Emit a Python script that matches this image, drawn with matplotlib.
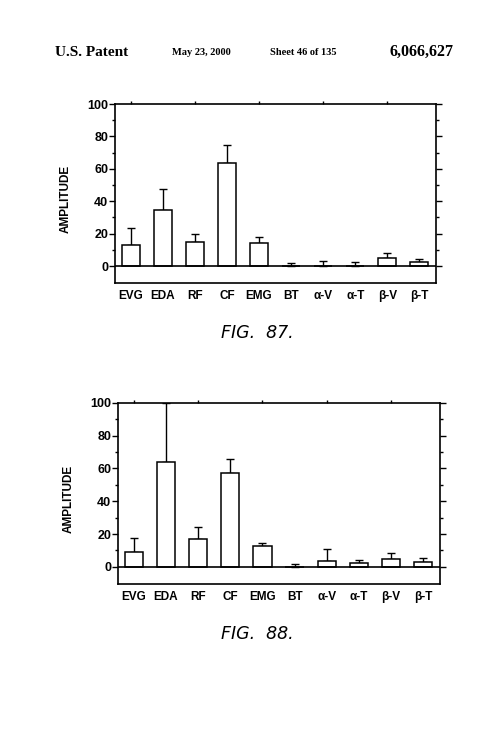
import numpy as np
import matplotlib
matplotlib.use("Agg")
import matplotlib.pyplot as plt

# categories shared by both figures
labels = ["EVG", "EDA", "RF", "CF", "EMG", "BT", "α-V", "α-T", "β-V", "β-T"]

# FIG. 87 - mean and top of error bar
fig87_mean = [13.0, 34.6, 15.0, 63.8, 14.2, 0.0, 0.0, 0.0, 4.7, 2.7]
fig87_top = [23.5, 47.5, 19.5, 74.7, 17.7, 1.8, 3.0, 2.5, 8.2, 4.5]

# FIG. 88
fig88_mean = [9.0, 64.0, 16.7, 57.3, 12.4, 0.0, 3.7, 2.0, 4.7, 2.9]
fig88_top = [17.3, 100.0, 24.0, 66.0, 14.3, 1.6, 10.8, 3.9, 8.4, 5.1]

fig = plt.figure(figsize=(5.0, 7.34), dpi=100)

lab_font = dict(family=["Liberation Sans", "DejaVu Sans"], weight="bold")


def draw_panel(rect, mean, top):
    ax = fig.add_axes(rect)
    x = np.arange(len(labels))
    mean = np.array(mean)
    err = np.array(top) - mean
    ax.bar(x, mean, width=0.57, facecolor="white", edgecolor="black", linewidth=1.1, zorder=3)
    ax.errorbar(x, mean, yerr=[np.zeros_like(err), err], fmt="none", ecolor="black",
                elinewidth=1.0, capsize=3, capthick=1.0, zorder=2)
    ax.axhline(0, color="black", lw=1.2, zorder=4)
    ax.set_xlim(-0.49, 9.52)
    ax.set_ylim(-10.5, 100)
    for s in ax.spines.values():
        s.set_linewidth(1.2)

    ax.set_yticks([0, 20, 40, 60, 80, 100])
    ax.set_yticks([10, 30, 50, 70, 90], minor=True)
    ax.tick_params(axis="y", which="major", direction="out", length=4, width=1.0,
                   right=True, pad=1)
    ax.tick_params(axis="y", which="minor", direction="out", length=2.5, width=1.0, right=True)
    ax.set_yticklabels(["0", "20", "40", "60", "80", "100"], fontsize=9, **lab_font)

    ax.set_xticks(x)
    ax.set_xticklabels(labels, fontsize=8.5, **lab_font)
    ax.tick_params(axis="x", which="major", length=0, pad=5)
    # small marks along the top frame
    sec = ax.secondary_xaxis("top")
    sec.set_xticks([0, 2, 4, 6, 8])
    sec.set_xticklabels([])
    sec.tick_params(direction="out", length=2.5, width=1.0)
    sec.spines["top"].set_visible(False)

    ax.set_ylabel("AMPLITUDE", fontsize=8.5, **lab_font)
    ax.yaxis.set_label_coords(-0.135, 0.47)
    return ax


draw_panel([0.230, 0.6144, 0.642, 0.2439], fig87_mean, fig87_top)
draw_panel([0.236, 0.2044, 0.644, 0.2466], fig88_mean, fig88_top)

# patent header
fig.text(0.11, 0.929, "U.S. Patent", family="Liberation Serif", weight="bold", fontsize=11, va="center")
fig.text(0.344, 0.929, "May 23, 2000", family="Liberation Serif", weight="bold", fontsize=7.5, va="center")
fig.text(0.54, 0.929, "Sheet 46 of 135", family="Liberation Serif", weight="bold", fontsize=7.5, va="center")
fig.text(0.78, 0.929, "6,066,627", family="Liberation Serif", weight="bold", fontsize=11.5, va="center")

# figure captions
fig.text(0.515, 0.546, "FIG.  87.", family="DejaVu Sans", style="italic", fontsize=12.5,
         ha="center", va="center")
fig.text(0.515, 0.136, "FIG.  88.", family="DejaVu Sans", style="italic", fontsize=12.5,
         ha="center", va="center")

fig.savefig("out.png", dpi=100, facecolor="white")
